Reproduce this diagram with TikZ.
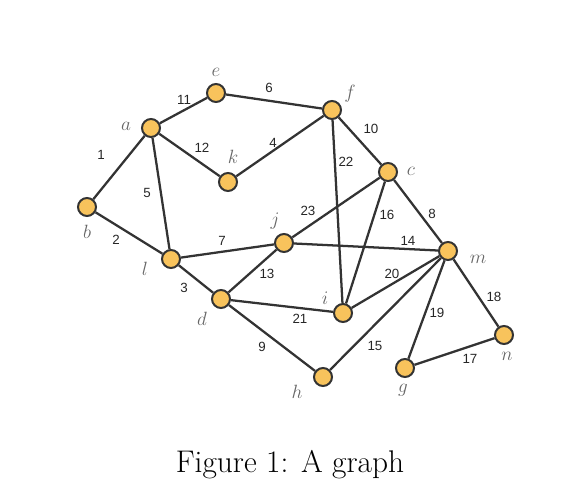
\documentclass[tikz,border=0pt]{standalone}
\usepackage{fontspec}
\setsansfont{Liberation Sans}
\definecolor{vertexfill}{HTML}{F8C35C}
\definecolor{edgegray}{HTML}{333333}
\begin{document}
\begin{tikzpicture}[x=0.75pt,y=-0.75pt,
	vertex/.style={circle,draw=edgegray,fill=vertexfill,line width=1.5pt,inner sep=0pt,minimum size=13.5pt},
	edge/.style={draw=edgegray,line width=1.7pt},
	vname/.style={text=black!60,font=\fontsize{15.5}{16}\selectfont},
	elabel/.style={text=black!85,font=\sffamily\fontsize{10}{11}\selectfont}]
	%%%%% START %%%%%
	\useasboundingbox (0,0) rectangle (562,482);
	
	% vertices
	\node[vertex] (a) at (151,128) {};
	\node[vertex] (e) at (216,93) {};
	\node[vertex] (f) at (332,110) {};
	\node[vertex] (k) at (228,182) {};
	\node[vertex] (c) at (388,172) {};
	\node[vertex] (b) at (87,207) {};
	\node[vertex] (j) at (284,243) {};
	\node[vertex] (l) at (171,259) {};
	\node[vertex] (m) at (448,251) {};
	\node[vertex] (d) at (221,299) {};
	\node[vertex] (i) at (343,313) {};
	\node[vertex] (n) at (504,335) {};
	\node[vertex] (g) at (405,368) {};
	\node[vertex] (h) at (323,377) {};
	
	% edges
	\foreach \u/\v in {a/b,b/l,l/d,k/f,a/l,e/f,l/j,c/m,d/h,f/c,a/e,a/k,d/j,j/m,
		h/m,c/i,g/n,m/n,m/g,i/m,d/i,f/i,j/c}
		\draw[edge] (\u) -- (\v);
	
	% vertex names
	\node[vname] (na) at (126,126) {$a$};
	\node[vname] (ne) at (216,72) {$e$};
	\node[vname] (nf) at (350,94) {$f$};
	\node[vname] (nk) at (233,157) {$k$};
	\node[vname] (nc) at (411,171) {$c$};
	\node[vname] (nb) at (87,232) {$b$};
	\node[vname] (nj) at (275,221) {$j$};
	\node[vname] (nl) at (145,269) {$l$};
	\node[vname] (nm) at (478,259) {$m$};
	\node[vname] (nd) at (202,319) {$d$};
	\node[vname] (ni) at (325,298) {$i$};
	\node[vname] (nn) at (507,356) {$n$};
	\node[vname] (ng) at (403,390) {$g$};
	\node[vname] (nh) at (297,392) {$h$};
	
	% edge weights
	\node[elabel] (w1) at (101,155) {1};
	\node[elabel] (w2) at (116,240) {2};
	\node[elabel] (w3) at (184,288) {3};
	\node[elabel] (w4) at (273,143) {4};
	\node[elabel] (w5) at (147,193) {5};
	\node[elabel] (w6) at (269,88) {6};
	\node[elabel] (w7) at (222,241) {7};
	\node[elabel] (w8) at (432,214) {8};
	\node[elabel] (w9) at (262,347) {9};
	\node[elabel] (w10) at (371,129) {10};
	\node[elabel] (w11) at (184,100) {11};
	\node[elabel] (w12) at (202,148) {12};
	\node[elabel] (w13) at (267,274) {13};
	\node[elabel] (w14) at (408,241) {14};
	\node[elabel] (w15) at (375,346) {15};
	\node[elabel] (w16) at (387,215) {16};
	\node[elabel] (w17) at (470,359) {17};
	\node[elabel] (w18) at (494,297) {18};
	\node[elabel] (w19) at (437,313) {19};
	\node[elabel] (w20) at (392,274) {20};
	\node[elabel] (w21) at (300,319) {21};
	\node[elabel] (w22) at (346,162) {22};
	\node[elabel] (w23) at (308,211) {23};
	
	% caption
	\node[font=\fontsize{23.5}{28}\selectfont] (cap) at (290,465) {Figure 1: A graph};
	%%%%% END %%%%%
\end{tikzpicture}
\end{document}
